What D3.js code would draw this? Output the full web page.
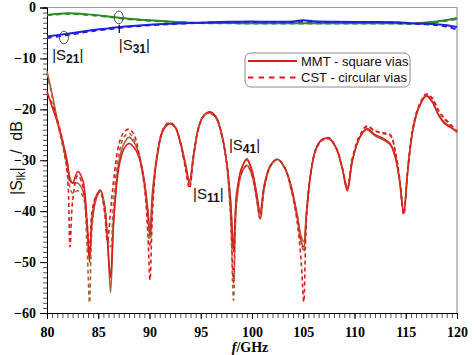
<!DOCTYPE html>
<html><head><meta charset="utf-8">
<script src="https://cdn.jsdelivr.net/npm/d3@7"></script>
<style>html,body{margin:0;padding:0;background:#fff;}svg{display:block;}</style>
</head><body>
<svg id="chart" width="474" height="355"></svg>
<script>
// ---- data ----
const freq = [80,80.5,81,81.5,82,82.25,82.5,83,83.5,83.9,84.15,84.4,84.8,85.2,85.6,85.9,86.2,86.5,87,87.5,88,88.5,89,89.5,89.85,90.05,90.3,90.7,91.2,91.6,92,92.5,93,93.5,93.9,94.3,94.8,95.3,95.9,96.5,97,97.5,97.9,98.2,98.5,99,99.5,100,100.4,100.8,101.2,101.8,102.5,103.2,103.8,104.4,104.8,105.05,105.3,105.7,106.2,106.8,107.5,108.2,108.8,109.3,109.8,110.5,111.2,112,112.8,113.5,114,114.4,114.8,115.2,115.7,116.3,117,117.6,118.2,118.8,119.4,120];
const s11Mmt = [-16.5,-19.5,-22.5,-26,-30.5,-34,-34.5,-32.2,-34,-42,-50,-42,-37.5,-36,-39,-46,-53,-42,-31.5,-27.8,-26.7,-27.5,-29.5,-34.5,-40.5,-45,-37,-30,-24.8,-23.3,-22.8,-23.5,-26.5,-31,-34.5,-29,-23.5,-21.2,-20.5,-21.5,-24.5,-30,-38,-48,-37,-31.5,-29.7,-32,-36,-40.5,-35,-31,-29.8,-31.5,-35,-41,-46,-47,-41,-33,-28,-26,-25.7,-27.5,-31.5,-36,-30,-25.5,-23.8,-25,-25.7,-26.8,-29.5,-34,-40.2,-32,-24,-19.5,-17.3,-18.5,-21.2,-22.8,-23.6,-24.5];
const s41Mmt = [-12.5,-17,-22,-26.5,-31,-33.5,-34.5,-34.5,-36,-43,-49,-41,-37,-35.8,-38.5,-45,-56,-42,-30.5,-26.8,-25.5,-26.5,-29,-34,-40,-44,-36,-29.5,-24.6,-23.2,-22.8,-23.4,-26.2,-30.5,-34,-28.8,-23.4,-21.2,-20.6,-21.6,-24.6,-30,-37.5,-47,-36.5,-31.5,-30,-32.2,-36,-40,-34.8,-31,-29.8,-31.5,-35,-40.5,-45,-46,-40.5,-33,-28,-26,-25.8,-27.6,-31.5,-35.5,-30,-25.6,-24,-25.2,-26,-27,-29.5,-34,-40,-32,-24,-19.6,-17.4,-18.6,-21,-22.6,-23.4,-24.3];
const s11Cst = [-17,-19,-22,-26,-33,-47,-38,-33,-35,-42,-48,-40,-37,-36.3,-40,-46,-40,-34,-27,-24.5,-23.9,-25,-29,-35,-45,-53.5,-40,-29.5,-24.5,-23,-22.6,-23.4,-26.5,-31.5,-35.5,-29.5,-23.6,-21.3,-20.6,-21.6,-24.5,-30,-40,-54,-38,-32.5,-31,-33,-37,-41.5,-35.5,-31.2,-29.8,-31.5,-35.5,-42,-50,-57.8,-42,-33,-28,-26,-25.6,-27.5,-31.5,-35.5,-29.5,-25.2,-23.3,-24.2,-24.6,-25,-28.5,-33.5,-40.5,-31.5,-23.5,-19.2,-17,-17.8,-20.2,-21.8,-23,-24.2];
const s41Cst = [-13,-17.5,-22.5,-27,-32,-35.5,-36.5,-36,-37,-47,-58,-43,-37.5,-36,-39,-45,-47,-38,-29,-25.5,-24.7,-26,-29.5,-35,-42,-47,-38,-29.8,-24.7,-23.1,-22.7,-23.5,-26.4,-31,-35,-29.2,-23.5,-21.1,-20.8,-21.8,-24.8,-30.5,-41,-57.5,-38.5,-32.5,-31,-33,-37,-41.5,-35.5,-31.2,-29.9,-31.6,-35.5,-41,-46,-48,-41,-33,-28.2,-26.2,-25.8,-27.6,-31.3,-35.6,-29.8,-25.3,-23.4,-24.3,-24.8,-25.2,-28.6,-34,-40.8,-31.8,-23.8,-19.4,-17.1,-18,-20.4,-22,-23.2,-24.5];
const sFreq = [80,82,84,86,88,90,92,94,96,98,100,102,104,105,106,108,110,112,114,115,116,117,118,119,120];
const s21Mmt = [-5.7,-5.15,-4.55,-4.1,-3.7,-3.4,-3.2,-3.05,-2.9,-2.8,-2.75,-2.8,-2.75,-2.5,-2.7,-2.8,-2.85,-2.85,-2.9,-3.0,-3.15,-3.2,-3.3,-3.5,-3.85];
const s21Cst = [-6.0,-5.4,-4.75,-4.25,-3.8,-3.5,-3.25,-3.1,-2.95,-2.9,-2.85,-2.9,-2.85,-2.7,-2.8,-2.85,-2.9,-2.9,-2.95,-3.1,-3.2,-3.3,-3.45,-3.75,-4.35];
const s31Mmt = [-1.45,-1.15,-1.35,-1.75,-2.2,-2.5,-2.75,-3.0,-3.05,-3.05,-3.1,-3.1,-3.1,-3.1,-3.1,-3.1,-3.1,-3.1,-3.1,-3.15,-3.1,-2.95,-2.75,-2.45,-2.05];
const s31Cst = [-1.5,-1.25,-1.45,-1.85,-2.3,-2.6,-2.8,-3.0,-3.1,-3.1,-3.15,-3.15,-3.15,-3.15,-3.15,-3.15,-3.15,-3.15,-3.15,-3.2,-3.15,-3.0,-2.85,-2.6,-2.25];
const xTicks = [80,85,90,95,100,105,110,115,120];
const yTicks = [-60,-50,-40,-30,-20,-10,0];
const legendLabels = ["MMT - square vias","CST - circular vias"];
const curveLabels = [
  {name:"S", sub:"21", f:80.5, v:-10.3},
  {name:"S", sub:"31", f:87.0, v:-8.35},
  {name:"S", sub:"11", f:94.25, v:-37.6},
  {name:"S", sub:"41", f:97.75, v:-28.0}
];
const markers = [{f:81.65, v:-5.9},{f:87.0, v:-1.95}];

// ---- drawing ----
const svg = d3.select("#chart");
const x = d3.scaleLinear().domain([80,120]).range([47,457]);
const y = d3.scaleLinear().domain([-60,0]).range([313,7.5]);

const RED = "#e3191c", BROWN = "#a2673c", GREEN = "#2d8a2a", BLUE = "#1f1fe0";

// frame (top/right grey)
svg.append("path").attr("d",`M${x(80)},${y(0)}H${x(120)}V${y(-60)}`)
  .attr("fill","none").attr("stroke","#9a9a9a").attr("stroke-width",1.2);

// axes
const serif = "'Liberation Serif','Times New Roman',serif";
const sans = "'Liberation Sans',Arial,sans-serif";

const xMinor = d3.range(80,120.01,0.5);
const yMinor = d3.range(-60,0.01,1);
const gx = svg.append("g").attr("transform",`translate(0,${y(-60)})`);
gx.call(d3.axisBottom(x).tickValues(xMinor).tickSize(5).tickFormat(""));
gx.call(g=>g.selectAll(".tick line").attr("stroke","#555"));
const gx2 = svg.append("g").attr("transform",`translate(0,${y(-60)})`)
  .call(d3.axisBottom(x).tickValues(xTicks).tickSize(6).tickPadding(8).tickFormat(d3.format("d")));
gx2.select(".domain").attr("stroke","#000");
gx2.selectAll("text").attr("font-family",serif).attr("font-weight","bold").attr("font-size",14).attr("fill","#000");

const gy = svg.append("g").attr("transform",`translate(${x(80)},0)`);
gy.call(d3.axisLeft(y).tickValues(yMinor).tickSize(4).tickFormat(""));
gy.call(g=>g.selectAll(".tick line").attr("stroke","#555"));
const gy2 = svg.append("g").attr("transform",`translate(${x(80)},0)`)
  .call(d3.axisLeft(y).tickValues(yTicks).tickSize(7).tickPadding(4).tickFormat(d3.format("d")));
gy2.select(".domain").attr("stroke","#000");
gy2.selectAll("text").attr("font-family",serif).attr("font-weight","bold").attr("font-size",14).attr("fill","#000");

// axis titles
const xt = svg.append("text").attr("x",250).attr("y",352).attr("text-anchor","middle")
  .attr("font-family",serif).attr("font-weight","bold").attr("font-size",14).attr("fill","#000");
xt.append("tspan").attr("font-style","italic").text("f");
xt.append("tspan").text("/GHz");

const yt = svg.append("text").attr("transform","translate(22,158) rotate(-90)").attr("text-anchor","middle")
  .attr("font-family",sans).attr("font-size",16).attr("fill","#111");
yt.append("tspan").text("|S");
yt.append("tspan").attr("font-size",12).attr("dy",3).text("lk");
yt.append("tspan").attr("dy",-3).attr("xml:space","preserve").text("|   /  dB");

// curves
const line = d3.line().x(d=>x(d[0])).y(d=>y(d[1])).curve(d3.curveCatmullRom.alpha(0.5));
const zip = (fs,vs)=>fs.map((f,i)=>[f,vs[i]]);
const series = [
  {f:sFreq, v:s31Mmt, c:GREEN, dash:null, w:2},
  {f:sFreq, v:s31Cst, c:GREEN, dash:"5,4", w:2},
  {f:sFreq, v:s21Mmt, c:BLUE, dash:null, w:2},
  {f:sFreq, v:s21Cst, c:BLUE, dash:"5,4", w:2},
  {f:freq, v:s41Mmt, c:BROWN, dash:null, w:1.6},
  {f:freq, v:s11Mmt, c:RED, dash:null, w:1.6},
  {f:freq, v:s41Cst, c:BROWN, dash:"4,3", w:1.6},
  {f:freq, v:s11Cst, c:RED, dash:"4,3", w:1.6}
];
svg.append("g").selectAll("path").data(series).join("path")
  .attr("d",s=>line(zip(s.f,s.v))).attr("fill","none")
  .attr("stroke",s=>s.c).attr("stroke-width",s=>s.w)
  .attr("stroke-dasharray",s=>s.dash).attr("stroke-linejoin","round");

// markers
svg.append("g").selectAll("ellipse").data(markers).join("ellipse")
  .attr("cx",d=>x(d.f)).attr("cy",d=>y(d.v)).attr("rx",4.5).attr("ry",6.3)
  .attr("fill","none").attr("stroke","#444").attr("stroke-width",0.9);
svg.append("line").attr("x1",x(87.05)).attr("x2",x(87.05)).attr("y1",y(-3.4)).attr("y2",y(-5.0))
  .attr("stroke","#111").attr("stroke-width",1.3);

// curve labels
const cl = svg.append("g").selectAll("text").data(curveLabels).join("text")
  .attr("x",d=>x(d.f)).attr("y",d=>y(d.v)).attr("font-family",sans).attr("font-size",15).attr("fill","#111");
cl.append("tspan").text(d=>"|"+d.name);
cl.append("tspan").attr("font-size",12).attr("font-weight","bold").attr("dy",3).text(d=>d.sub);
cl.append("tspan").attr("dy",-3).text("|");

// legend
const lg = svg.append("g");
lg.append("rect").attr("x",245).attr("y",53).attr("width",165).attr("height",34).attr("rx",6)
  .attr("fill","#fff").attr("stroke","#8a8a8a").attr("stroke-width",1);
legendLabels.forEach((t,i)=>{
  const yy = 61 + i*16.5;
  lg.append("line").attr("x1",248).attr("x2",297).attr("y1",yy).attr("y2",yy)
    .attr("stroke",RED).attr("stroke-width",2).attr("stroke-dasharray",i? "5.5,5":null);
  lg.append("text").attr("x",301).attr("y",yy+4.5).attr("font-family",sans).attr("font-size",13)
    .attr("fill","#111").text(t);
});
</script>
</body></html>
